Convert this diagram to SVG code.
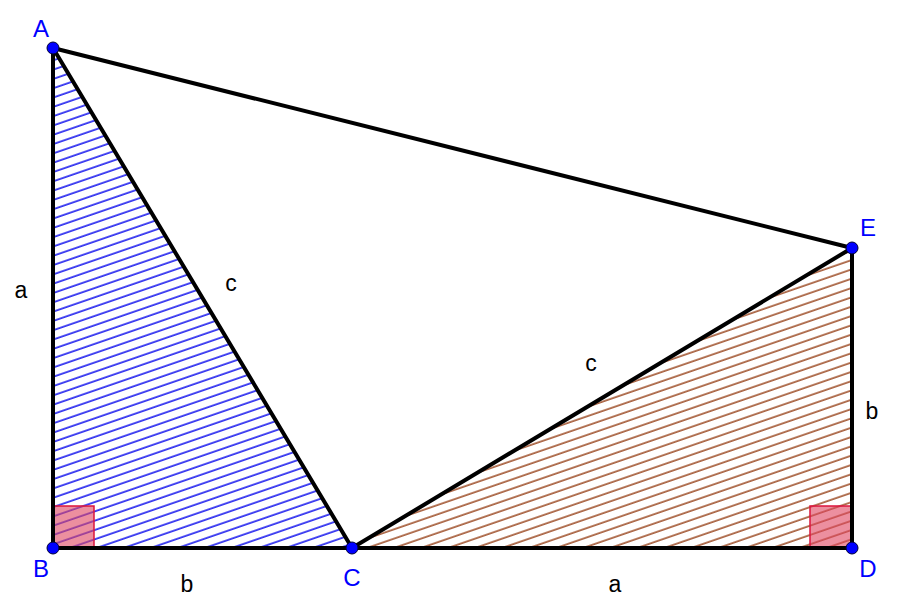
<svg xmlns="http://www.w3.org/2000/svg" width="900" height="604" viewBox="0 0 900 604">
<style>
.lbl{font-family:"Liberation Sans",Arial,sans-serif;font-size:23px;fill:#000;text-anchor:middle}
.pl{font-family:"Liberation Sans",Arial,sans-serif;font-size:24px;fill:#0000ff;text-anchor:middle}
.seg{stroke:#000;stroke-width:4;fill:none;stroke-linecap:round}
.pt{fill:#0000ff;stroke:#000033;stroke-width:1}
.ra{fill:#e0455f;fill-opacity:0.6;stroke:#dc143c;stroke-width:1.5}
</style>
<defs>
<pattern id="hb" patternUnits="userSpaceOnUse" width="20" height="8.8" patternTransform="rotate(-19)">
<line x1="0" y1="4" x2="20" y2="4" stroke="#1a1aee" stroke-width="1.6"/>
</pattern>
<pattern id="hr" patternUnits="userSpaceOnUse" width="20" height="8.8" patternTransform="rotate(-19)">
<line x1="0" y1="4" x2="20" y2="4" stroke="#a0522d" stroke-width="1.6"/>
</pattern>
</defs>
<g id="fills">
<polygon points="53,48 53,548 352,548" fill="url(#hb)"/>
<polygon points="352,548 852,548 852,248" fill="url(#hr)"/>
<rect class="ra" x="53" y="506" width="41" height="42"/>
<rect class="ra" x="810" y="506" width="42" height="42"/>
</g>
<g id="connectors">
<line class="seg" x1="53" y1="48" x2="53" y2="548"/>
<line class="seg" x1="53" y1="548" x2="852" y2="548"/>
<line class="seg" x1="53" y1="48" x2="352" y2="548"/>
<line class="seg" x1="53" y1="48" x2="852" y2="248"/>
<line class="seg" x1="352" y1="548" x2="852" y2="248"/>
<line class="seg" x1="852" y1="248" x2="852" y2="548"/>
</g>
<g id="seg-labels">
<text class="lbl" x="21" y="298">a</text>
<text class="lbl" x="231" y="291">c</text>
<text class="lbl" x="591" y="371">c</text>
<text class="lbl" x="872" y="419">b</text>
<text class="lbl" x="187" y="592">b</text>
<text class="lbl" x="615" y="592">a</text>
</g>
<g id="A"><circle class="pt" cx="53" cy="48" r="6"/><text class="pl" x="41" y="37">A</text></g>
<g id="B"><circle class="pt" cx="53" cy="548" r="6"/><text class="pl" x="41" y="577">B</text></g>
<g id="C"><circle class="pt" cx="352" cy="548" r="6"/><text class="pl" x="352" y="586">C</text></g>
<g id="D"><circle class="pt" cx="852" cy="548" r="6"/><text class="pl" x="868" y="577">D</text></g>
<g id="E"><circle class="pt" cx="852" cy="248" r="6"/><text class="pl" x="868" y="236">E</text></g>
</svg>
